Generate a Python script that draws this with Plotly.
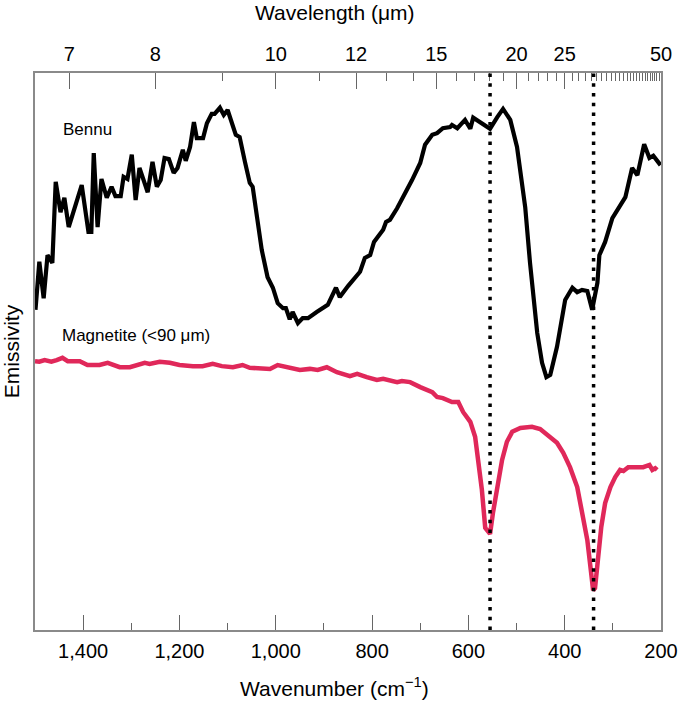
import plotly.graph_objects as go

# Bennu spectrum (wavenumber in cm^-1, relative emissivity)
bennu_wn = [1499, 1491, 1482, 1474, 1464, 1457, 1447, 1439, 1430, 1403, 1389, 1383, 1378, 1370,
            1362, 1351, 1341, 1333, 1322, 1316, 1308, 1299, 1291, 1283, 1266, 1256, 1247, 1239,
            1231, 1222, 1212, 1204, 1193, 1187, 1178, 1170, 1164, 1151, 1143, 1133, 1127, 1116,
            1108, 1100, 1083, 1075, 1064, 1054, 1048, 1039, 1029, 1017, 1006, 996, 985, 979,
            971, 965, 954, 944, 933, 915, 892, 875, 867, 850, 836, 825, 815, 804, 796, 777,
            771, 763, 748, 736, 717, 700, 690, 675, 665, 653, 638, 634, 623, 607, 596, 590,
            572, 555, 540, 528, 513, 499, 482, 472, 457, 447, 438, 430, 416, 399, 384, 374,
            364, 353, 343, 332, 328, 316, 301, 289, 274, 260, 249, 235, 224, 216, 201]
bennu_em = [0.580, 0.667, 0.601, 0.679, 0.665, 0.812, 0.757, 0.783, 0.730, 0.806, 0.721, 0.721, 0.864, 0.730,
            0.817, 0.783, 0.803, 0.786, 0.786, 0.821, 0.817, 0.861, 0.779, 0.837, 0.793, 0.848, 0.803, 0.815,
            0.855, 0.853, 0.828, 0.837, 0.870, 0.850, 0.875, 0.920, 0.891, 0.891, 0.918, 0.935, 0.935, 0.946,
            0.933, 0.942, 0.897, 0.893, 0.848, 0.810, 0.803, 0.748, 0.688, 0.639, 0.620, 0.592, 0.583, 0.583,
            0.563, 0.576, 0.556, 0.565, 0.565, 0.576, 0.589, 0.620, 0.603, 0.623, 0.638, 0.649, 0.674, 0.679, 0.703, 0.725,
            0.739, 0.743, 0.764, 0.783, 0.815, 0.846, 0.879, 0.897, 0.900, 0.909, 0.911, 0.915, 0.909, 0.924, 0.908, 0.928,
            0.918, 0.908, 0.929, 0.944, 0.924, 0.875, 0.766, 0.665, 0.538, 0.484, 0.458, 0.462, 0.513, 0.598, 0.620, 0.612,
            0.616, 0.614, 0.580, 0.629, 0.679, 0.703, 0.746, 0.764, 0.784, 0.837, 0.824, 0.880, 0.855, 0.859, 0.842]

# Magnetite (<90 um) laboratory spectrum
mag_wn = [1500, 1491, 1480, 1466, 1455, 1443, 1432, 1422, 1407, 1391, 1366, 1349, 1324, 1303,
          1287, 1272, 1262, 1241, 1220, 1200, 1172, 1152, 1131, 1112, 1089, 1069, 1054, 1033,
          1012, 996, 977, 965, 950, 929, 913, 894, 873, 846, 831, 811, 790, 777, 748, 738,
          721, 700, 675, 665, 653, 634, 621, 611, 596, 586, 580, 572, 565, 555, 549, 540,
          530, 520, 509, 492, 468, 451, 430, 416, 403, 389, 374, 364, 353, 345, 341, 337,
          332, 324, 316, 305, 295, 285, 278, 268, 249, 237, 224, 218, 212, 208]
mag_em = [0.487, 0.486, 0.489, 0.486, 0.489, 0.493, 0.487, 0.487, 0.487, 0.480, 0.480, 0.484, 0.476, 0.476,
          0.480, 0.484, 0.482, 0.486, 0.484, 0.480, 0.478, 0.478, 0.482, 0.478, 0.476, 0.480, 0.475, 0.475,
          0.473, 0.480, 0.476, 0.475, 0.471, 0.473, 0.471, 0.476, 0.467, 0.460, 0.464, 0.458, 0.453, 0.455, 0.449, 0.451,
          0.449, 0.440, 0.431, 0.422, 0.420, 0.413, 0.413, 0.395, 0.377, 0.350, 0.313, 0.254, 0.185, 0.174, 0.212, 0.259,
          0.308, 0.341, 0.359, 0.366, 0.368, 0.364, 0.350, 0.339, 0.321, 0.295, 0.259, 0.217, 0.163, 0.103, 0.072, 0.076,
          0.127, 0.187, 0.230, 0.259, 0.277, 0.290, 0.288, 0.295, 0.295, 0.295, 0.299, 0.290, 0.293, 0.290]

# band positions marked with dotted lines
band_wn = [555, 340]

# axis ticks
wn_major = [1400, 1200, 1000, 800, 600, 400, 200]
wn_minor = [1300, 1100, 900, 700, 500, 300]
wl_major = [7, 8, 10, 12, 15, 20, 25, 50]
wl_minor = [9, 11, 13, 14, 16, 17, 18, 19, 21, 22, 23, 24] + list(range(26, 50))

FONT = "Liberation Sans, Arial, Helvetica, sans-serif"
LINE_COL = "#8a8a8a"
TICK_COL = "#666666"

fig = go.Figure()
fig.add_trace(go.Scatter(x=bennu_wn, y=bennu_em, mode="lines",
                         line=dict(color="black", width=4.2), showlegend=False, hoverinfo="skip"))
fig.add_trace(go.Scatter(x=mag_wn, y=mag_em, mode="lines",
                         line=dict(color="#E0285A", width=4.5), showlegend=False, hoverinfo="skip"))
# invisible trace so the top wavelength axis is drawn
fig.add_trace(go.Scatter(x=bennu_wn, y=bennu_em, xaxis="x2", mode="lines",
                         line=dict(width=0), opacity=0, showlegend=False, hoverinfo="skip"))

for wn in band_wn:
    fig.add_shape(type="line", x0=wn, x1=wn, xref="x", y0=0, y1=1, yref="paper",
                  line=dict(color="black", width=3.5, dash="3.5px,6.2px"))

fig.add_annotation(x=1447, y=0.906, text="Bennu", showarrow=False, xanchor="left",
                   font=dict(size=17, color="black", family=FONT))
fig.add_annotation(x=1449, y=0.533, text="Magnetite (<90 μm)", showarrow=False, xanchor="left",
                   font=dict(size=17, color="black", family=FONT))

# axis titles sit a little left of centre in the original, so use annotations
fig.add_annotation(xref="paper", yref="paper", x=0.479, y=1, yanchor="middle", yshift=61,
                   text="Wavelength (μm)", showarrow=False,
                   font=dict(size=21, color="black", family=FONT))
fig.add_annotation(xref="paper", yref="paper", x=0.479, y=0, yanchor="middle", yshift=-57,
                   text="Wavenumber (cm<sup>−1</sup>)", showarrow=False,
                   font=dict(size=21, color="black", family=FONT))

fig.update_layout(
    width=685, height=710,
    margin=dict(l=35, r=24, t=73, b=80),
    paper_bgcolor="white", plot_bgcolor="white",
    font=dict(family=FONT, size=20, color="black"),
    xaxis=dict(range=[1500, 200], tickvals=wn_major, tickformat=",d", automargin=False,
               ticks="inside", ticklen=15, tickwidth=1.3, tickcolor=TICK_COL,
               minor=dict(tickvals=wn_minor, ticks="inside", ticklen=7, tickwidth=1.3, tickcolor=TICK_COL),
               showline=True, linecolor=LINE_COL, linewidth=1.5, showgrid=False, zeroline=False,
               ticklabelstandoff=2, tickfont=dict(size=20)),
    xaxis2=dict(range=[1500, 200], overlaying="x", side="top", automargin=False,
                tickvals=[10000 / w for w in wl_major], ticktext=[str(w) for w in wl_major],
                ticks="inside", ticklen=16, tickwidth=1.3, tickcolor=TICK_COL,
                minor=dict(tickvals=[10000 / w for w in wl_minor], ticks="inside", ticklen=8,
                           tickwidth=1.1, tickcolor=TICK_COL),
                showline=True, linecolor=LINE_COL, linewidth=1.5, showgrid=False, zeroline=False,
                ticklabelstandoff=2, tickfont=dict(size=20)),
    yaxis=dict(range=[0, 1.009], showticklabels=False, ticks="", showgrid=False, zeroline=False,
               showline=True, mirror=True, linecolor=LINE_COL, linewidth=1.5, automargin=False,
               title=dict(text="Emissivity", font=dict(size=21), standoff=12)),
)

# drop the browser's default body margin so the figure fills the window
fig.write_html("out.html", config={"displayModeBar": False},
               post_script="document.body.style.margin='0';")
